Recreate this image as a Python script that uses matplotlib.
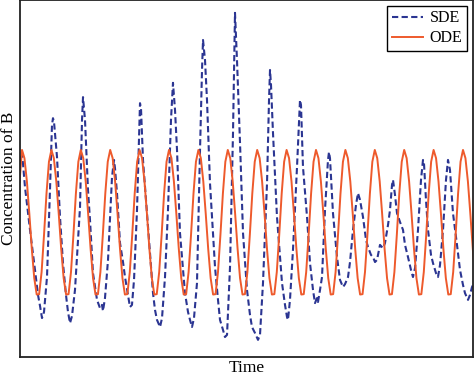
import numpy as np
import matplotlib
matplotlib.use('Agg')
import matplotlib.pyplot as plt

plt.rcParams['font.family'] = ['Liberation Serif', 'DejaVu Serif']

# SDE trajectory (time, concentration)
sde_t = [0.0, 0.44, 1.10, 2.21, 3.31, 3.97, 4.42, 4.86, 5.30, 5.96,
         6.62, 7.06, 7.28, 7.51, 8.17, 8.83, 9.49, 10.15, 10.60, 11.04,
         11.48, 12.14, 13.25, 13.69, 13.91, 14.35, 15.01, 15.45, 16.11, 17.00,
         17.66, 18.10, 18.32, 18.76, 19.43, 20.31, 20.75, 20.97, 21.41, 22.08,
         22.74, 23.18, 23.84, 24.28, 24.72, 25.17, 25.83, 26.49, 26.71, 27.15,
         28.26, 29.36, 29.80, 30.24, 30.91, 31.35, 32.01, 32.67, 33.33, 33.77,
         34.22, 34.66, 35.32, 36.42, 37.09, 37.53, 37.97, 38.41, 39.07, 39.74,
         40.18, 40.40, 40.84, 41.28, 41.94, 43.05, 43.71, 44.15, 44.81, 45.25,
         45.70, 46.36, 47.02, 47.46, 47.90, 48.57, 49.23, 50.11, 50.77, 51.21,
         51.88, 52.54, 52.98, 53.64, 54.53, 54.97, 55.19, 55.41, 55.85, 56.73,
         57.84, 58.50, 58.94, 59.16, 59.60, 60.26, 61.15, 61.81, 62.03, 62.47,
         63.36, 64.02, 64.68, 65.12, 65.56, 65.78, 66.23, 66.67, 67.33, 67.99,
         68.21, 68.43, 69.09, 69.98, 70.64, 71.30, 71.74, 72.41, 72.85, 73.51,
         74.17, 74.61, 75.06, 75.72, 76.38, 76.82, 77.48, 77.92, 78.37, 78.81,
         79.47, 80.13, 80.57, 81.24, 81.68, 82.12, 82.34, 82.78, 83.22, 83.89,
         84.55, 84.99, 85.65, 86.31, 86.75, 87.20, 87.86, 88.52, 88.96, 89.18,
         89.62, 90.07, 90.73, 91.17, 91.83, 92.27, 92.72, 93.38, 94.04, 94.48,
         94.92, 95.58, 96.47, 97.13, 97.79, 98.23, 98.90, 99.34, 99.78, 100.22]

sde_c = [5.46, 5.74, 4.76, 3.56, 2.44, 1.74, 1.43, 1.09, 1.26, 2.24,
         4.68, 6.50, 6.69, 6.58, 5.60, 3.92, 2.63, 1.74, 1.26, 0.95,
         1.15, 1.88, 4.20, 6.64, 7.28, 6.64, 4.68, 3.84, 2.35, 1.60,
         1.37, 1.46, 1.29, 1.65, 2.72, 5.04, 5.52, 5.29, 4.59, 3.19,
         2.66, 2.24, 1.74, 1.40, 1.46, 2.16, 4.12, 7.11, 6.97, 5.52,
         3.64, 1.79, 1.32, 1.04, 0.84, 1.09, 2.24, 4.12, 6.64, 7.68,
         6.92, 5.80, 3.47, 1.79, 1.26, 1.04, 0.84, 1.09, 2.07, 5.80,
         8.04, 8.88, 8.32, 7.20, 4.87, 2.52, 1.60, 1.04, 0.76, 0.56,
         0.62, 2.52, 6.27, 9.64, 8.32, 5.99, 3.47, 1.88, 1.18, 0.84,
         0.67, 0.48, 0.62, 2.07, 4.87, 7.20, 8.04, 7.62, 6.27, 3.92,
         2.07, 1.46, 1.12, 1.04, 1.60, 3.00, 5.32, 7.20, 7.06, 5.32,
         3.92, 2.63, 1.88, 1.51, 1.65, 1.54, 1.88, 2.24, 4.12, 5.52,
         5.74, 5.57, 4.03, 2.80, 2.16, 1.96, 2.04, 2.24, 2.66, 3.56,
         4.26, 4.59, 4.40, 3.92, 3.28, 3.08, 2.86, 2.80, 2.66, 2.72,
         3.14, 3.05, 3.19, 3.70, 4.12, 4.82, 4.96, 4.54, 4.03, 3.78,
         3.56, 3.14, 2.80, 2.44, 2.24, 2.49, 3.56, 4.96, 5.52, 5.43,
         4.40, 3.56, 2.86, 2.63, 2.35, 2.24, 2.58, 3.56, 4.96, 5.52,
         5.24, 4.03, 3.14, 2.44, 2.02, 1.79, 1.60, 1.74, 1.96, 2.07]

# ODE solution, sampled every 1/12 of its period (period ~6.49, first peak at t=0.44)
ode_step = 6.49 / 12
ode_start = -0.10
ode_c = [4.90,
         5.80, 5.57, 4.92, 4.01, 3.03, 2.21, 1.75, 1.76, 2.38, 3.43, 4.58, 5.47,
         5.80, 5.57, 4.92, 4.01, 3.03, 2.21, 1.75, 1.76, 2.38, 3.43, 4.58, 5.47,
         5.80, 5.57, 4.92, 4.01, 3.03, 2.21, 1.75, 1.76, 2.38, 3.43, 4.58, 5.47,
         5.80, 5.57, 4.92, 4.01, 3.03, 2.21, 1.75, 1.76, 2.38, 3.43, 4.58, 5.47,
         5.80, 5.57, 4.92, 4.01, 3.03, 2.21, 1.75, 1.76, 2.38, 3.43, 4.58, 5.47,
         5.80, 5.57, 4.92, 4.01, 3.03, 2.21, 1.75, 1.76, 2.38, 3.43, 4.58, 5.47,
         5.80, 5.57, 4.92, 4.01, 3.03, 2.21, 1.75, 1.76, 2.38, 3.43, 4.58, 5.47,
         5.80, 5.57, 4.92, 4.01, 3.03, 2.21, 1.75, 1.76, 2.38, 3.43, 4.58, 5.47,
         5.80, 5.57, 4.92, 4.01, 3.03, 2.21, 1.75, 1.76, 2.38, 3.43, 4.58, 5.47,
         5.80, 5.57, 4.92, 4.01, 3.03, 2.21, 1.75, 1.76, 2.38, 3.43, 4.58, 5.47,
         5.80, 5.57, 4.92, 4.01, 3.03, 2.21, 1.75, 1.76, 2.38, 3.43, 4.58, 5.47,
         5.80, 5.57, 4.92, 4.01, 3.03, 2.21, 1.75, 1.76, 2.38, 3.43, 4.58, 5.47,
         5.80, 5.57, 4.92, 4.01, 3.03, 2.21, 1.75, 1.76, 2.38, 3.43, 4.58, 5.47,
         5.80, 5.57, 4.92, 4.01, 3.03, 2.21, 1.75, 1.76, 2.38, 3.43, 4.58, 5.47,
         5.80, 5.57, 4.92, 4.01, 3.03, 2.21, 1.75, 1.76, 2.38, 3.43, 4.58, 5.47,
         5.80, 5.57, 4.92, 4.01, 3.03, 2.21]
ode_t = ode_start + ode_step * np.arange(len(ode_c))

fig = plt.figure(figsize=(4.74, 3.79), dpi=100)
ax = fig.add_axes([20 / 474, 22 / 379, 453 / 474, 357 / 379])

ax.plot(sde_t, sde_c, color='#2b3592', linestyle=(0, (3, 1.6)), linewidth=1.5, label='SDE')
ax.plot(ode_t, ode_c, color='#ee5a2c', linestyle='-', linewidth=1.4, label='ODE')

ax.set_xlim(0, 100)
ax.set_ylim(0, 10)
ax.set_xticks([])
ax.set_yticks([])
for s in ax.spines.values():
    s.set_color('#222222')
    s.set_linewidth(1.3)

ax.set_xlabel('Time', fontsize=12.5, labelpad=2)
ax.set_ylabel('Concentration of B', fontsize=12.5, labelpad=2)

leg = ax.legend(loc='upper right', fontsize=11.5, fancybox=False, framealpha=1,
                edgecolor='black', handlelength=2.0, handletextpad=0.4,
                borderpad=0.3, labelspacing=0.25, borderaxespad=0.35)
leg.get_frame().set_linewidth(1.0)

fig.savefig('out.png', dpi=100)
